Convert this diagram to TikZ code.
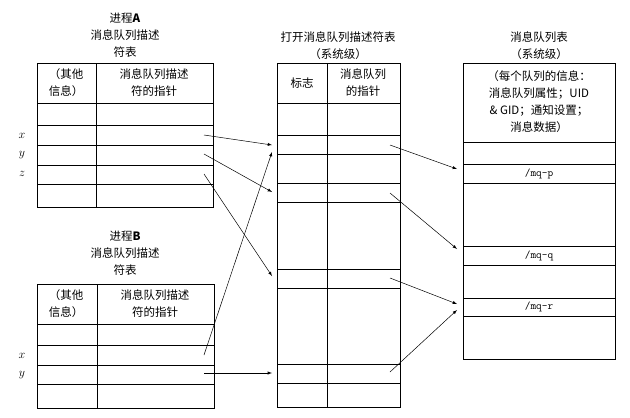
\documentclass[tikz,border=0pt]{standalone}
\usepackage{fontspec}
\setmainfont{Noto Sans CJK SC}
\usetikzlibrary{positioning,calc}

\tikzset{
  tbl/.style={line width=0.9pt},
  row/.style={line width=0.5pt},
  ptr/.style={->, >=latex, line width=0.5pt},
  lbl/.style={align=center, font=\fontsize{11.5}{17}\selectfont, inner sep=0pt},
  var/.style={font=\large},
  mq/.style={font=\fontsize{11}{13}\selectfont\ttfamily},
}

\begin{document}
\begin{tikzpicture}[x=1pt,y=-1pt]
  \useasboundingbox (0,0) rectangle (630,418);

  % process A table
  \node[lbl] (titleA) at (125,35) {进程\textbf{A}\\消息队列描述\\符表};
  \draw[tbl] (37,63) rectangle (213,207);
  \draw[tbl] (96,63) -- (96,207);
  \draw[tbl] (37,103) -- (213,103);
  \foreach \y in {125,145,165,184} \draw[row] (37,\y) -- (213,\y);
  \node[lbl] (infoA) at (66,83) {（其他\\信息）};
  \node[lbl] (ptrA) at (154,83) {消息队列描述\\符的指针};
  \node[var] (ax) at (22,136) {$x$};
  \node[var] (ay) at (22,155) {$y$};
  \node[var] (az) at (22,174) {$z$};

  % process B table
  \node[lbl] (titleB) at (125,253) {进程\textbf{B}\\消息队列描述\\符表};
  \draw[tbl] (37,284) rectangle (214,408);
  \draw[tbl] (97,284) -- (97,408);
  \draw[tbl] (37,324) -- (214,324);
  \foreach \y in {345,365,384} \draw[row] (37,\y) -- (214,\y);
  \node[lbl] (infoB) at (66,304) {（其他\\信息）};
  \node[lbl] (ptrB) at (155,304) {消息队列描述\\符的指针};
  \node[var] (bx) at (22,356) {$x$};
  \node[var] (by) at (22,375) {$y$};

  % open descriptor table
  \node[lbl] (titleO) at (338,46) {打开消息队列描述符表\\（系统级）};
  \draw[tbl] (277,63) rectangle (400,407);
  \draw[tbl] (327,63) -- (327,407);
  \draw[tbl] (277,103) -- (400,103);
  \foreach \y in {135,154,183,202,269,288,364,383} \draw[row] (277,\y) -- (400,\y);
  \node[lbl] (flag) at (302,83) {标志};
  \node[lbl] (ptrO) at (363,83) {消息队列\\的指针};

  % message queue table
  \node[lbl] (titleQ) at (539,46) {消息队列表\\（系统级）};
  \draw[tbl] (463,63) rectangle (615,359);
  \draw[tbl] (463,142) -- (615,142);
  \foreach \y in {164,183,246,265,298,316} \draw[row] (463,\y) -- (615,\y);
  \node[lbl] (infoQ) at (539,102) {（每个队列的信息：\\消息队列属性；UID\\\& GID；通知设置；\\消息数据）};
  \node[mq] (mqp) at (539,174) {/mq-p};
  \node[mq] (mqq) at (539,256) {/mq-q};
  \node[mq] (mqr) at (539,307) {/mq-r};

  % pointer ends
  \coordinate (pAx) at (204,135);  \coordinate (pAy) at (204,154);
  \coordinate (pAz) at (204,174);  \coordinate (pBx) at (204,355);
  \coordinate (pBy) at (204,373);
  \coordinate (o1) at (272,145);   \coordinate (o1b) at (272,152);
  \coordinate (o2) at (272,192);   \coordinate (o3) at (272,276);
  \coordinate (o4) at (272,373);
  \coordinate (s1) at (390,145);   \coordinate (s2) at (390,193);
  \coordinate (s3) at (390,278);   \coordinate (s4) at (390,372);
  \coordinate (q1) at (457,169);   \coordinate (q2) at (457,249);
  \coordinate (q3) at (457,304);   \coordinate (q3b) at (457,310);

  \draw[ptr] (pAx) -- (o1);
  \draw[ptr] (pAy) -- (o2);
  \draw[ptr] (pAz) -- (o3);
  \draw[ptr] (pBx) -- (o1b);
  \draw[ptr] (pBy) -- (o4);
  \draw[ptr] (s1) -- (q1);
  \draw[ptr] (s2) -- (q2);
  \draw[ptr] (s3) -- (q3);
  \draw[ptr] (s4) -- (q3b);
\end{tikzpicture}
\end{document}
